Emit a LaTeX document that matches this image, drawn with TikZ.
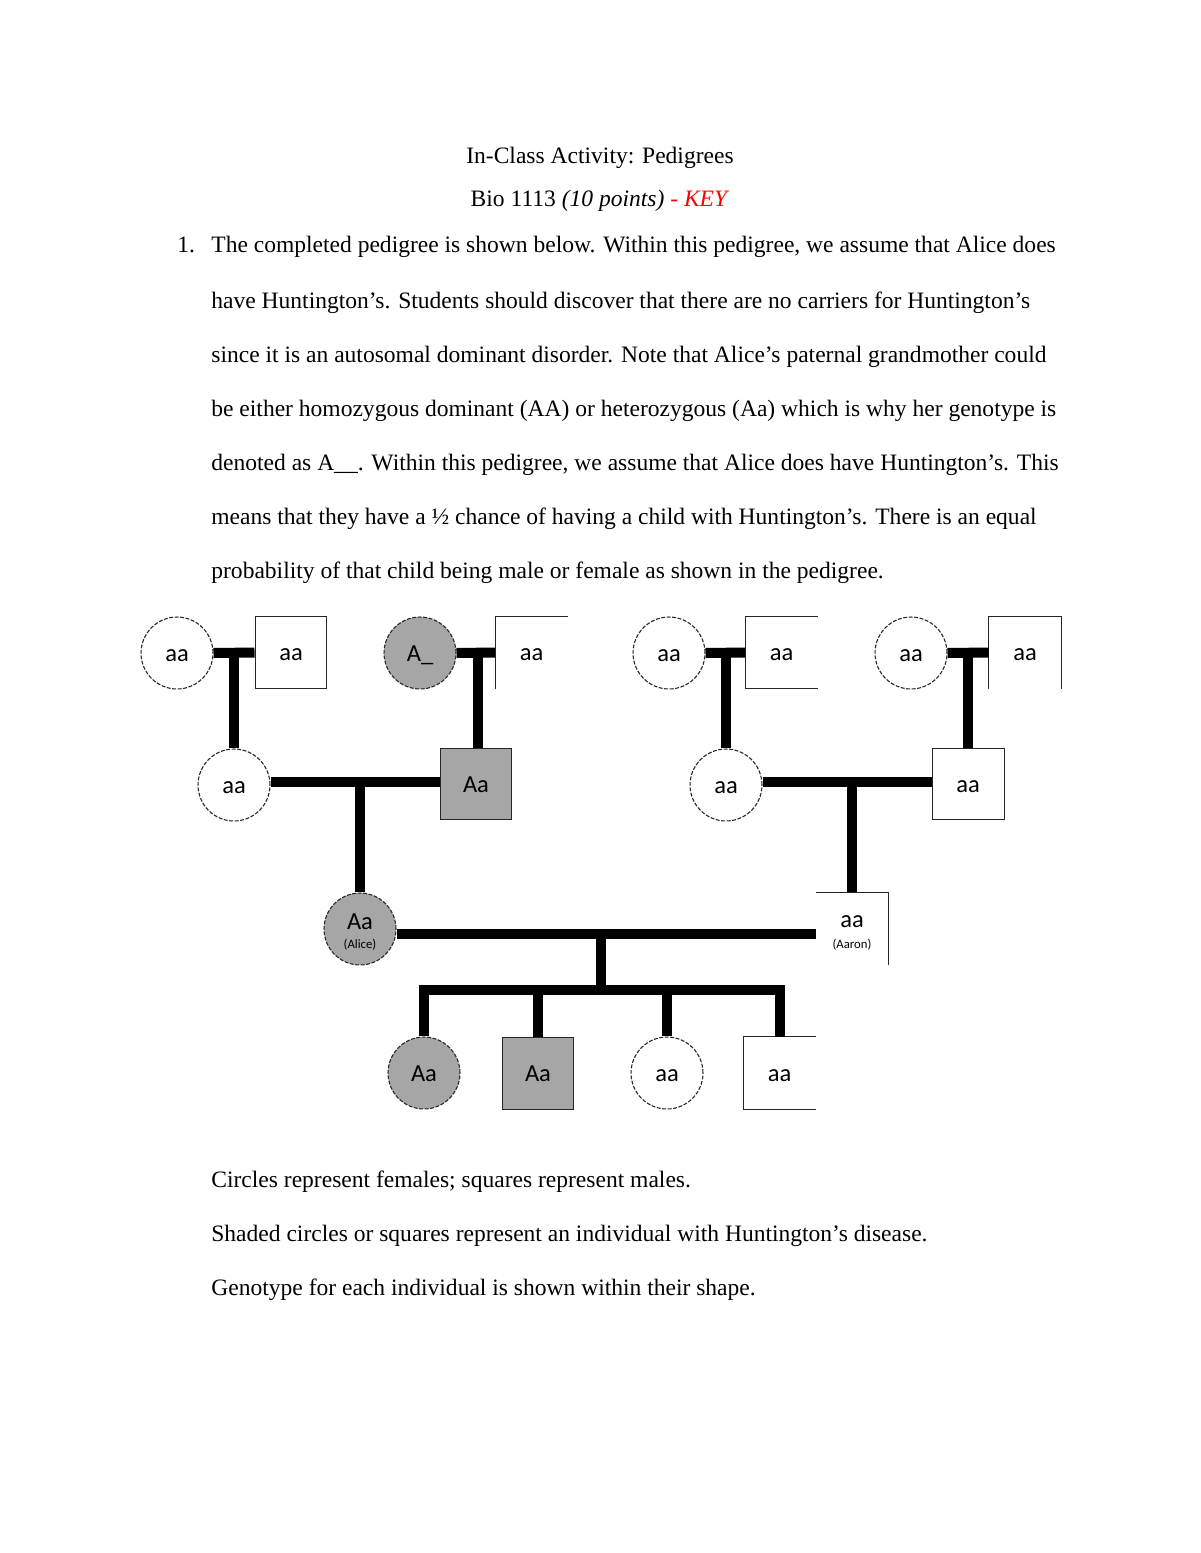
\documentclass[tikz,border=0pt]{standalone}
\usepackage{fontspec}
\setmainfont{Liberation Serif}
\newfontfamily\pedfont{Carlito}
\definecolor{affgray}{HTML}{A6A6A6}
\definecolor{keyred}{HTML}{FF0000}
\begin{document}
\begin{tikzpicture}[x=0.51pt,y=-0.51pt,
  fem/.style={circle,draw=black!85,dash pattern=on 2pt off 0.8pt,line width=0.55pt,minimum size=36.7pt,inner sep=0pt,text height=8.5pt,text depth=0pt,font=\pedfont\fontsize{12.5}{13}\selectfont},
  mal/.style={rectangle,minimum size=36.7pt,inner sep=0pt,text height=8.5pt,text depth=0pt,font=\pedfont\fontsize{12.5}{13}\selectfont},
  maldraw/.style={mal,draw=black!85,line width=0.5pt},
  aff/.style={fill=affgray},
  side/.style={draw=black!85,line width=0.5pt},
  bond/.style={line width=5.1pt,line join=miter},
  txt/.style={anchor=base west,inner sep=0pt,font=\fontsize{12}{14}\selectfont},
  ctxt/.style={anchor=base,inner sep=0pt,font=\fontsize{12}{14}\selectfont},
  big/.style={font=\pedfont\fontsize{12.5}{13}\selectfont,inner sep=0pt},
  small/.style={font=\pedfont\fontsize{6.5}{7}\selectfont,inner sep=0pt}
]
\useasboundingbox (0,0) rectangle (1200,1553);

% ---- header text ----
\node[ctxt] (title) at (600,164) {In-Class Activity: Pedigrees};
\node[ctxt] (sub) at (600,207) {Bio 1113 \textit{(10 points)} \textcolor{keyred}{- \textit{KEY}}};
\node[txt] (num) at (177,253) {1.};
\node[txt] (l1) at (211,253) {The completed pedigree is shown below. Within this pedigree, we assume that Alice does};
\node[txt] (l2) at (211,308) {have Huntington’s. Students should discover that there are no carriers for Huntington’s};
\node[txt] (l3) at (211,362) {since it is an autosomal dominant disorder. Note that Alice’s paternal grandmother could};
\node[txt] (l4) at (211,416) {be either homozygous dominant (AA) or heterozygous (Aa) which is why her genotype is};
\node[txt] (l5) at (211,470) {denoted as A\_\_. Within this pedigree, we assume that Alice does have Huntington’s. This};
\node[txt] (l6) at (211,524) {means that they have a ½ chance of having a child with Huntington’s. There is an equal};
\node[txt] (l7) at (211,578) {probability of that child being male or female as shown in the pedigree.};

% generation 1
\node[fem] (g1) at (177,653) {aa};
\node[maldraw] (g2) at (291,652.5) {aa};
\node[fem,aff] (g3) at (420,653) {A\_};
\node[mal] (g4) at (531.5,652.5) {aa};
\node[fem] (g5) at (669,653) {aa};
\node[mal] (g6) at (781.5,652.5) {aa};
\node[fem] (g7) at (911,653) {aa};
\node[mal] (g8) at (1025,652.5) {aa};
% generation 2
\node[fem] (p1) at (234,785) {aa};
\node[maldraw,aff] (p2) at (476,784) {Aa};
\node[fem] (p3) at (726,785) {aa};
\node[maldraw] (p4) at (968,784) {aa};
% generation 3
\node[fem,aff,
  label={[big,yshift=3.6pt]center:Aa},
  label={[small,yshift=-8.2pt]center:(Alice)}] (alice) at (360,929) {};
\node[mal,
  label={[big,yshift=3.3pt]center:aa},
  label={[small,yshift=-8.4pt]center:(Aaron)}] (aaron) at (852,928.5) {};
% generation 4
\node[fem,aff] (k1) at (424,1073) {Aa};
\node[maldraw,aff] (k2) at (538,1073) {Aa};
\node[fem] (k3) at (667,1073) {aa};
\node[mal] (k4) at (779.5,1073) {aa};

% partial outlines of squares
\draw[side] (g4.south west) -- (g4.north west) -- (g4.north east);
\draw[side] (g6.north east) -- (g6.north west) -- (g6.south west) -- (g6.south east);
\draw[side] (g8.south west) -- (g8.north west) -- (g8.north east) -- (g8.south east);
\draw[side] (aaron.north west) -- (aaron.north east) -- (aaron.south east);
\draw[side] (k4.north east) -- (k4.north west) -- (k4.south west) -- (k4.south east);

% mating and descent lines
\draw[bond] (g1.east) -- (g2.west);
\draw[bond] (p1.north |- g1.east) -- (p1.north);
\draw[bond] (g3.east) -- (g4.west);
\draw[bond] ([xshift=1pt]p2.north |- g3.east) -- ([xshift=1pt]p2.north);
\draw[bond] (g5.east) -- (g6.west);
\draw[bond] (p3.north |- g5.east) -- (p3.north);
\draw[bond] (g7.east) -- (g8.west);
\draw[bond] (p4.north |- g7.east) -- (p4.north);

\draw[bond] ([yshift=1.5pt]p1.east) -- ([yshift=1.5pt]p1.east -| p2.west);
\draw[bond] ([yshift=1.5pt]p1.east -| alice.north) -- (alice.north);
\draw[bond] ([yshift=1.5pt]p3.east) -- ([yshift=1.5pt]p3.east -| p4.west);
\draw[bond] ([yshift=1.5pt]p3.east -| aaron.north) -- (aaron.north);

\coordinate (sib) at (601,990);
\draw[bond] ([yshift=-2.55pt]alice.east) -- ([yshift=-2.55pt]alice.east -| aaron.west);
\draw[bond] ([yshift=-2.55pt]alice.east -| sib) -- (sib);
\draw[bond] (k1.north) |- (sib) -| (k4.north);
\draw[bond] (k2.north) -- (k2.north |- sib);
\draw[bond] (k3.north) -- (k3.north |- sib);

% ---- footer text ----
\node[txt] (f1) at (211,1187) {Circles represent females; squares represent males.};
\node[txt] (f2) at (211,1241) {Shaded circles or squares represent an individual with Huntington’s disease.};
\node[txt] (f3) at (211,1295) {Genotype for each individual is shown within their shape.};
\end{tikzpicture}
\end{document}
